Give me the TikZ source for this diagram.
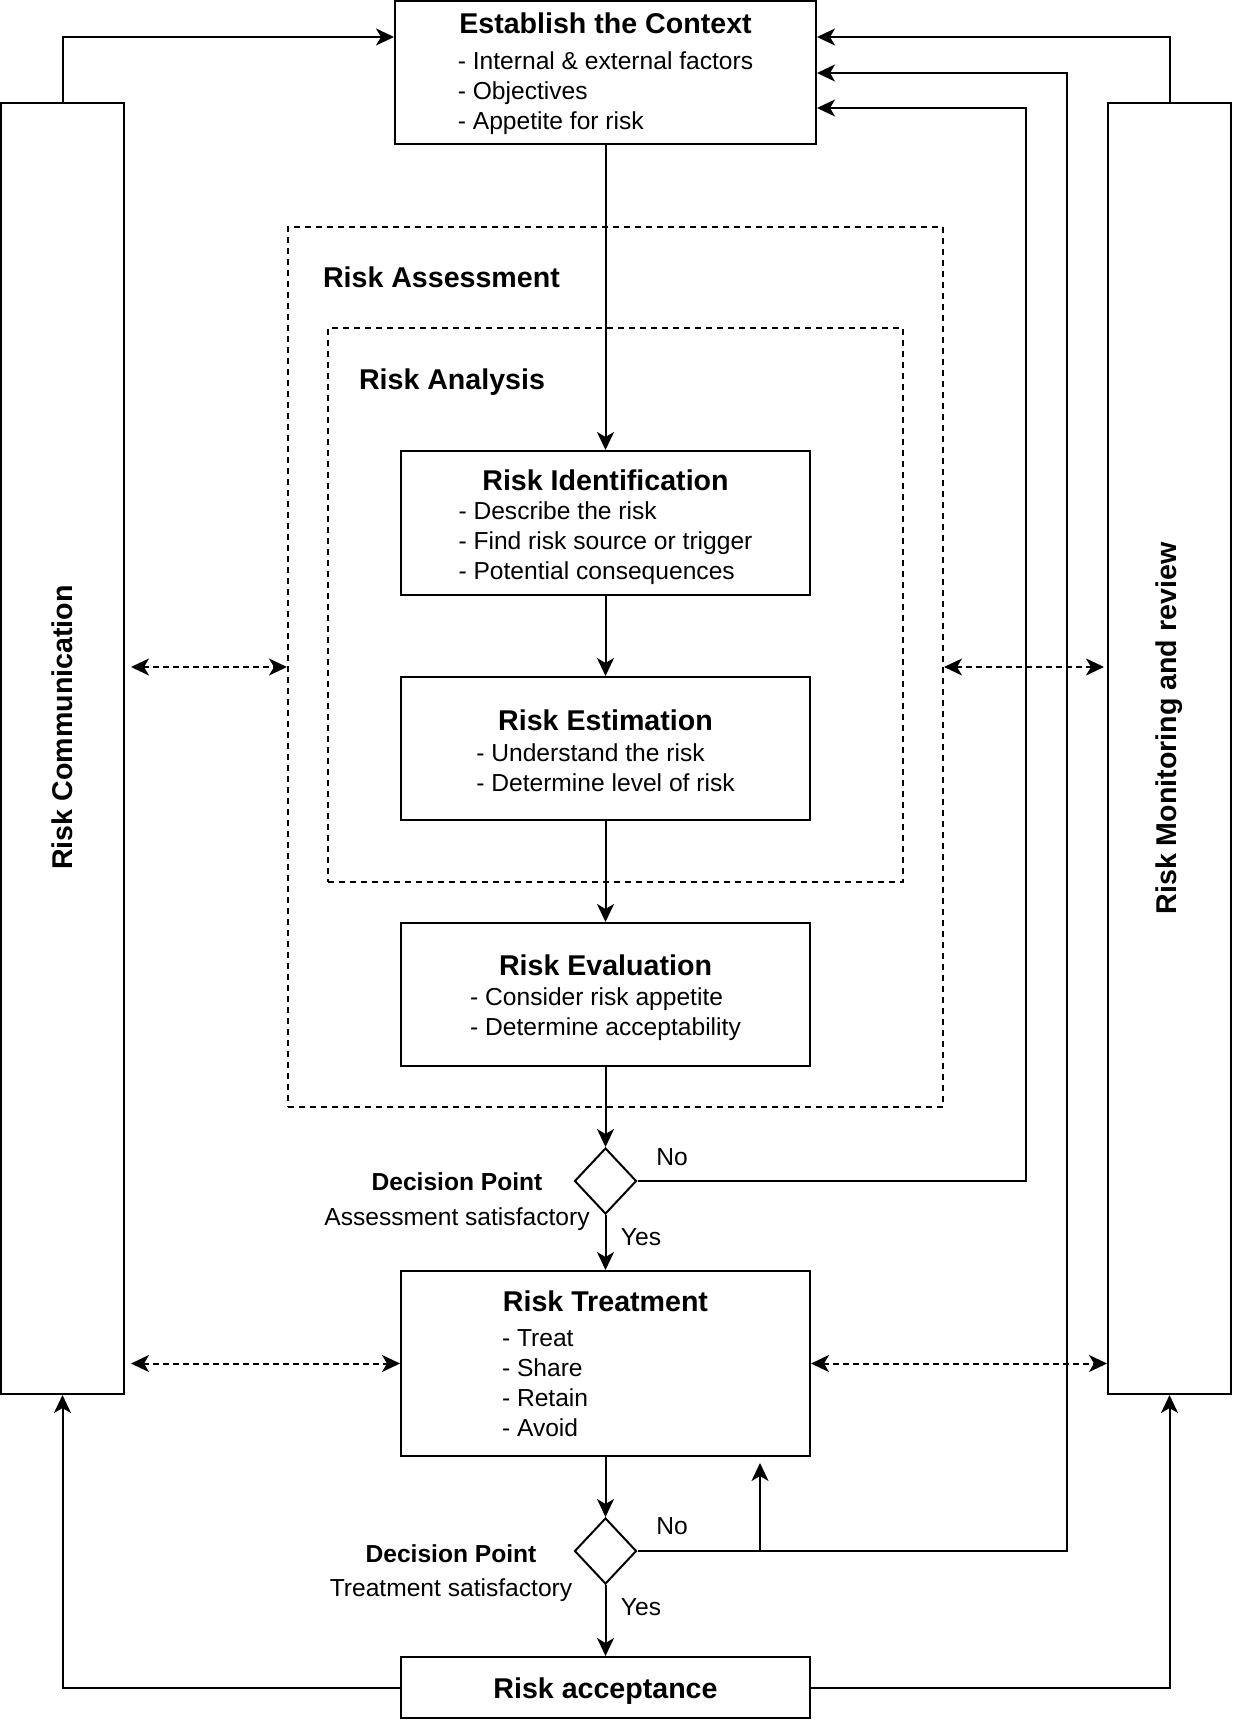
\documentclass[tikz,border=0pt]{standalone}
\usepackage{fontspec}
\setmainfont{Liberation Sans}
\usetikzlibrary{arrows.meta, shapes.geometric}

\newcommand{\ttlfont}{\fontsize{14.3pt}{17pt}\selectfont\bfseries}

\begin{document}
\begin{tikzpicture}[x=0.5pt, y=-0.5pt, line width=1pt,
  every node/.style={font=\fontsize{12.3pt}{15pt}\selectfont},
  stepbox/.style={draw, minimum width=204.5pt, align=center, inner sep=0pt},
  sidebox/.style={draw, minimum width=61.5pt, minimum height=645.5pt},
  region/.style={draw, dash pattern=on 3pt off 2.5pt},
  choice/.style={draw, diamond, minimum width=31pt, minimum height=33pt, inner sep=0pt},
  ttl/.style={font=\ttlfont},
  arr/.style={-{Stealth[length=9pt, width=8.5pt, inset=2.5pt]}},
  dotarr/.style={{Stealth[length=9pt, width=8.5pt, inset=2.5pt]}-{Stealth[length=9pt, width=8.5pt, inset=2.5pt]}, dash pattern=on 3pt off 2pt}]
  \useasboundingbox (0,0) rectangle (1232,1722);

  % side columns
  \node[sidebox] (comm) at (62.5,748.5) {};
  \node[sidebox] (mon) at (1169.5,748.5) {};
  \node[ttl, rotate=90] (commtxt) at ([yshift=10.5pt]comm.center) {Risk Communication};
  \node[ttl, rotate=90] (montxt) at ([yshift=10pt]mon.center) {Risk Monitoring and review};

  % context
  \node[stepbox, minimum width=210.5pt, minimum height=71.5pt] (ctx) at (605.5,72.5)
    {{\ttlfont\rule{0pt}{13.7pt}Establish the Context}\\[3pt]
     \begin{tabular}[t]{@{}l@{}}- Internal \& external factors\\- Objectives\\- Appetite for risk\end{tabular}};

  % dashed groups
  \node[region, minimum width=327.5pt, minimum height=440pt] (assess) at (615.5,667) {};
  \node[region, minimum width=287.5pt, minimum height=277pt] (analysis) at (615.5,605) {};
  \node[ttl, anchor=west, inner sep=0pt] (assesstxt) at (322,277) {Risk Assessment};
  \node[ttl, anchor=west, inner sep=0pt] (analysistxt) at (358,382) {Risk Analysis};

  % process steps
  \node[stepbox, minimum height=72pt] (ident) at (605.5,523)
    {{\ttlfont\rule{0pt}{16.4pt}Risk Identification}\\[-0.5pt]
     \begin{tabular}[t]{@{}l@{}}- Describe the risk\\- Find risk source or trigger\\- Potential consequences\end{tabular}};
  \node[stepbox, minimum height=71.5pt] (estim) at (605.5,748.5)
    {{\ttlfont\rule{0pt}{17pt}Risk Estimation}\\[0.4pt]
     \begin{tabular}[t]{@{}l@{}}- Understand the risk\\- Determine level of risk\end{tabular}};
  \node[stepbox, minimum height=71.5pt] (evalu) at (605.5,994.5)
    {{\ttlfont\rule{0pt}{15.9pt}Risk Evaluation}\\
     \begin{tabular}[t]{@{}l@{}}- Consider risk appetite\\- Determine acceptability\end{tabular}};
  \node[choice] (dec1) at (605.5,1181) {};
  \node[stepbox, minimum height=92.5pt] (treat) at (605.5,1363.5)
    {{\ttlfont\rule{0pt}{15.4pt}Risk Treatment}\\[2.5pt]
     \begin{tabular}[t]{@{}p{103.5pt}@{}}- Treat\\- Share\\- Retain\\- Avoid\end{tabular}};
  \node[choice] (dec2) at (605.5,1551) {};
  \node[stepbox, minimum height=30.5pt] (accept) at (605.5,1687.5)
    {\ttlfont\rule{0pt}{13.7pt}Risk acceptance};

  % decision labels
  \node (dp1) at (457,1182) {\bfseries Decision Point};
  \node (dp1sub) at (457,1219) {Assessment satisfactory};
  \node (no1) at (672,1157) {No};
  \node (yes1) at (641,1237) {Yes};
  \node (dp2) at (451,1554) {\bfseries Decision Point};
  \node (dp2sub) at (451,1590) {Treatment satisfactory};
  \node (no2) at (672,1526) {No};
  \node (yes2) at (641,1607) {Yes};

  % main flow
  \draw[arr] (ctx) -- (ident);
  \draw[arr] (ident) -- (estim);
  \draw[arr] (estim) -- (evalu);
  \draw[arr] (evalu) -- (dec1);
  \draw[arr] (dec1) -- (treat);
  \draw[arr] (treat) -- (dec2);
  \draw[arr] (dec2) -- (accept);

  % feedback loops
  \coordinate (backA) at (1026,108);
  \coordinate (backB) at (1067,73);
  \coordinate (topline) at (0,37);
  \coordinate (retry) at (760,0);
  \draw[arr] (dec1.east) -| (backA) -- (backA -| ctx.east);
  \draw[arr] (dec2.east) -| (backB) -- (backB -| ctx.east);
  \draw[arr, shorten >=3pt] (dec2.east -| retry) -- (retry |- treat.south);
  \draw[arr] (comm.north) |- (topline -| ctx.west);
  \draw[arr] (mon.north) |- (topline -| ctx.east);
  \draw[arr] (accept.west) -| (comm.south);
  \draw[arr] (accept.east) -| (mon.south);

  % communication links
  \draw[dotarr, shorten <=3pt] (comm.east |- assess.west) -- (assess.west);
  \draw[dotarr, shorten >=1.5pt] (assess.east) -- (assess.east -| mon.west);
  \draw[dotarr, shorten <=3pt] (comm.east |- treat.west) -- (treat.west);
  \draw[dotarr] (treat.east) -- (treat.east -| mon.west);
\end{tikzpicture}
\end{document}
